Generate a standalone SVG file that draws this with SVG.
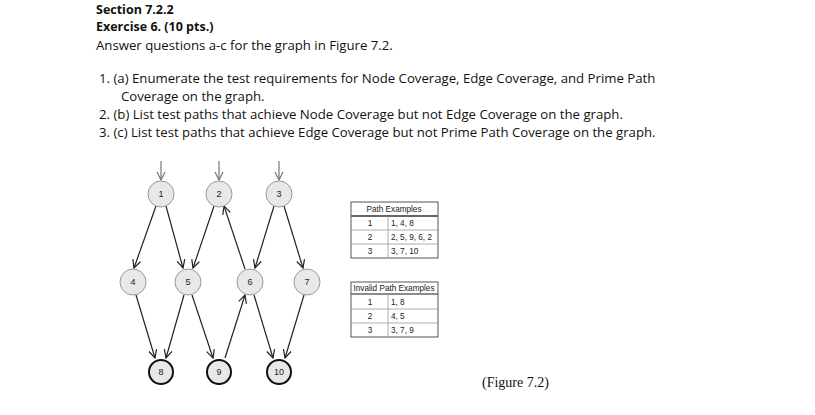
<svg xmlns="http://www.w3.org/2000/svg" width="815" height="415" viewBox="0 0 815 415">
<style>
.t{font-family:"Open Sans","Noto Sans",sans-serif;font-size:13.2px;fill:#111}
.b{font-weight:bold;font-size:12.5px}
.n circle{fill:#e8e8e8;stroke:#999;stroke-width:1}
.f circle{fill:#e8e8e8;stroke:#111;stroke-width:2}
.n text,.f text{font-family:"Liberation Sans",Arial,sans-serif;font-size:9px;fill:#222;text-anchor:middle}
.tb text{font-family:"Liberation Sans",Arial,sans-serif;font-size:8.2px;fill:#222;text-anchor:middle}
.tb text.v{text-anchor:start}
.e line{stroke:#222;stroke-width:1.2;marker-end:url(#a)}
.en line{stroke:#777;stroke-width:1.2;marker-end:url(#g)}
.tb rect{fill:#fff;stroke:#555;stroke-width:1}
.tb line{stroke:#999;stroke-width:0.8}
</style>
<defs>
<marker id="a" markerWidth="10" markerHeight="10" refX="9" refY="5" orient="auto" markerUnits="userSpaceOnUse"><path d="M1,1 L9,5 L1,9" fill="none" stroke="#222" stroke-width="1.2"/></marker>
<marker id="g" markerWidth="10" markerHeight="10" refX="9" refY="5" orient="auto" markerUnits="userSpaceOnUse"><path d="M1,1 L9,5 L1,9" fill="none" stroke="#777" stroke-width="1.2"/></marker>
</defs>
<rect width="815" height="415" fill="#fff"/>
<text class="t b" x="96" y="14">Section 7.2.2</text>
<text class="t b" x="96" y="31">Exercise 6. (10 pts.)</text>
<text class="t" x="96" y="50">Answer questions a-c for the graph in Figure 7.2.</text>
<text class="t" x="99" y="83">1.  (a) Enumerate the test requirements for Node Coverage, Edge Coverage, and Prime Path</text>
<text class="t" x="121" y="101">Coverage on the graph.</text>
<text class="t" x="99" y="119">2.  (b) List test paths that achieve Node Coverage but not Edge Coverage on the graph.</text>
<text class="t" x="99" y="137">3.  (c) List test paths that achieve Edge Coverage but not Prime Path Coverage on the graph.</text>
<g id="connectors">
<g class="en">
<line x1="161" y1="161" x2="161" y2="180"/><line x1="219" y1="161" x2="219" y2="180"/><line x1="279" y1="161" x2="279" y2="180"/>
</g>
<g class="e">
<line x1="156" y1="206" x2="134" y2="268"/>
<line x1="166" y1="206" x2="183" y2="268"/>
<line x1="214" y1="206" x2="193" y2="268"/>
<line x1="245" y1="269" x2="224" y2="206"/>
<line x1="274" y1="206" x2="255" y2="268"/>
<line x1="284" y1="206" x2="303" y2="268"/>
<line x1="136" y1="295" x2="155" y2="358"/>
<line x1="184" y1="295" x2="166" y2="358"/>
<line x1="192" y1="295" x2="213" y2="358"/>
<line x1="225" y1="358" x2="245" y2="295"/>
<line x1="254" y1="295" x2="273" y2="358"/>
<line x1="304" y1="295" x2="285" y2="358"/>
</g>
</g>
<g id="n1" class="n"><circle cx="161" cy="194" r="13"/><text x="161" y="197">1</text></g>
<g id="n2" class="n"><circle cx="219" cy="194" r="13"/><text x="219" y="197">2</text></g>
<g id="n3" class="n"><circle cx="279" cy="194" r="13"/><text x="279" y="197">3</text></g>
<g id="n4" class="n"><circle cx="133" cy="282" r="13"/><text x="133" y="285">4</text></g>
<g id="n5" class="n"><circle cx="188" cy="282" r="13"/><text x="188" y="285">5</text></g>
<g id="n6" class="n"><circle cx="250" cy="282" r="13"/><text x="250" y="285">6</text></g>
<g id="n7" class="n"><circle cx="307" cy="282" r="13"/><text x="307" y="285">7</text></g>
<g id="n8" class="f"><circle cx="161" cy="372" r="12"/><text x="161" y="375">8</text></g>
<g id="n9" class="f"><circle cx="219" cy="372" r="12"/><text x="219" y="375">9</text></g>
<g id="n10" class="f"><circle cx="279" cy="372" r="12"/><text x="279" y="375">10</text></g>
<g id="t1" class="tb">
<rect x="351" y="202" width="87" height="56"/>
<line x1="351" y1="216" x2="438" y2="216" style="stroke:#666;stroke-width:2"/>
<line x1="351" y1="230" x2="438" y2="230"/><line x1="351" y1="244" x2="438" y2="244"/>
<line x1="388" y1="216" x2="388" y2="258"/>
<text x="394" y="212">Path Examples</text>
<text x="370" y="226">1</text><text x="370" y="240">2</text><text x="370" y="254">3</text>
<text class="v" x="391" y="226">1, 4, 8</text>
<text class="v" x="391" y="240">2, 5, 9, 6, 2</text>
<text class="v" x="391" y="254">3, 7, 10</text>
</g>
<g id="t2" class="tb">
<rect x="351" y="282" width="87" height="55"/>
<line x1="351" y1="294" x2="438" y2="294" style="stroke:#666;stroke-width:1.5"/>
<line x1="351" y1="309" x2="438" y2="309"/><line x1="351" y1="323" x2="438" y2="323"/>
<line x1="388" y1="294" x2="388" y2="337"/>
<text x="394" y="291">Invalid Path Examples</text>
<text x="370" y="305">1</text><text x="370" y="319">2</text><text x="370" y="333">3</text>
<text class="v" x="391" y="305">1, 8</text>
<text class="v" x="391" y="319">4, 5</text>
<text class="v" x="391" y="333">3, 7, 9</text>
</g>
<text x="482" y="387" style="font-family:'Liberation Serif',serif;font-size:14px;fill:#111">(Figure 7.2)</text>
</svg>
